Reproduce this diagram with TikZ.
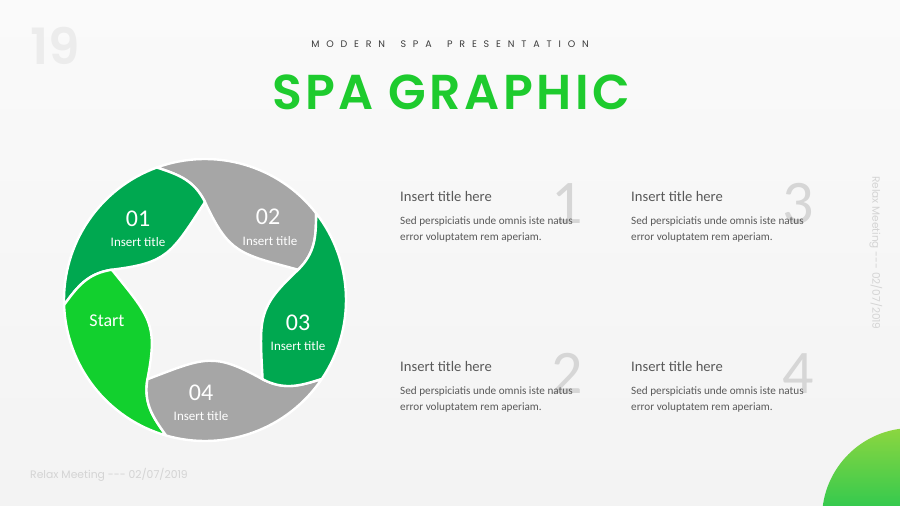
\documentclass[tikz,border=0pt]{standalone}
\usepackage{fontspec}
\setmainfont{Carlito}
\newfontfamily\pop{Poppins}
\newfontfamily\popsb{Poppins SemiBold}
\definecolor{dkgreen}{RGB}{0,168,80}
\definecolor{ltgreen}{RGB}{18,208,46}
\definecolor{segray}{RGB}{166,166,166}
\definecolor{titlegreen}{RGB}{30,203,46}
\definecolor{txtgray}{RGB}{89,89,89}
\definecolor{biggray}{RGB}{214,214,214}
\definecolor{faint}{RGB}{212,212,212}
\tikzset{
  seg/.style={draw=white, line width=2.4pt, line join=round},
  numlbl/.style={text=white, font=\fontsize{24}{24}\selectfont, inner sep=0pt},
  sublbl/.style={text=white, font=\fontsize{13}{13}\selectfont, inner sep=0pt},
  ttl/.style={text=txtgray, font=\fontsize{14.6}{16}\selectfont, anchor=west, inner sep=0pt},
  body/.style={text=txtgray, font=\fontsize{11.2}{16}\selectfont, anchor=base west, inner sep=0pt},
  bignum/.style={text=biggray, font=\fontsize{62}{62}\selectfont, inner sep=0pt, anchor=base east},
}
\begin{document}
\begin{tikzpicture}[x=1pt,y=-1pt]
\useasboundingbox (0,0) rectangle (900,506);
\shade[top color={rgb,255:red,250;green,250;blue,250}, bottom color={rgb,255:red,243;green,243;blue,243}] (0,0) rectangle (900,506);
% green corner circle
\begin{scope}
\clip (0,0) rectangle (900,506);
\shade[top color={rgb,255:red,140;green,214;blue,64}, bottom color={rgb,255:red,0;green,178;blue,80}, middle color={rgb,255:red,40;green,200;blue,80}] (912,518) circle[radius=90];
\end{scope}
% header
\node[text={rgb,255:red,236;green,236;blue,236}, font=\popsb\fontsize{50}{50}\selectfont, inner sep=0pt] (pgnum) at (55,46) {19};
\node[text={rgb,255:red,60;green,60;blue,60}, font=\pop\fontsize{9.5}{10}\selectfont\addfontfeature{LetterSpace=72}, inner sep=0pt] (sub) at (450,44) {MODERN\hspace{6pt} SPA\hspace{6pt} PRESENTATION};
\node[text=titlegreen, font=\popsb\fontsize{49}{49}\selectfont\addfontfeature{LetterSpace=7}, inner sep=0pt] (title) at (451,92) {SPA GRAPHIC};
\node[text=faint, font=\pop\fontsize{10.8}{11}\selectfont, anchor=west, inner sep=0pt] (foot) at (30,475) {Relax Meeting --- 02/07/2019};
\node[text=faint, font=\pop\fontsize{10.5}{11}\selectfont, rotate=-90, inner sep=0pt] (side) at (876,253) {Relax Meeting --- 02/07/2019};
% wheel
\begin{scope}[shift={(205,300)}, yscale=-1]
\foreach \a/\c in {0/segray,72/dkgreen,144/ltgreen,216/segray,288/dkgreen}{
  \filldraw[seg, fill=\c] (110+\a:141) arc[start angle=110+\a, end angle=38+\a, radius=141]
    .. controls +(270+\a:24) and +(45+\a:24) .. (18+\a:98)
    .. controls +(165+\a:62) and +(295+\a:56) .. (90+\a:98)
    .. controls +(117+\a:24) and +(342+\a:24) .. (110+\a:141) -- cycle;
}
\end{scope}
\node[numlbl] (n01) at (138,219) {01};
\node[sublbl] (s01) at (138,242) {Insert title};
\node[numlbl] (n02) at (268,217) {02};
\node[sublbl] (s02) at (270,241) {Insert title};
\node[numlbl] (n03) at (298,323) {03};
\node[sublbl] (s03) at (298,346) {Insert title};
\node[numlbl] (n04) at (201,393) {04};
\node[sublbl] (s04) at (201,416) {Insert title};
\node[text=white, font=\fontsize{18}{18}\selectfont, inner sep=0pt] (start) at (107,321) {Start};
% right side blocks
\node[bignum] (b1) at (583,223) {1};
\node[bignum] (b3) at (814,223) {3};
\node[bignum] (b2) at (583,393) {2};
\node[bignum] (b4) at (814,393) {4};
\node[ttl] (t1) at (400,196) {Insert title here};
\node[body] (d1a) at (400,224) {Sed perspiciatis unde omnis iste natus};
\node[body] (d1b) at (400,240) {error voluptatem rem aperiam.};
\node[ttl] (t3) at (631,196) {Insert title here};
\node[body] (d3a) at (631,224) {Sed perspiciatis unde omnis iste natus};
\node[body] (d3b) at (631,240) {error voluptatem rem aperiam.};
\node[ttl] (t2) at (400,366) {Insert title here};
\node[body] (d2a) at (400,394) {Sed perspiciatis unde omnis iste natus};
\node[body] (d2b) at (400,410) {error voluptatem rem aperiam.};
\node[ttl] (t4) at (631,366) {Insert title here};
\node[body] (d4a) at (631,394) {Sed perspiciatis unde omnis iste natus};
\node[body] (d4b) at (631,410) {error voluptatem rem aperiam.};
\end{tikzpicture}
\end{document}
